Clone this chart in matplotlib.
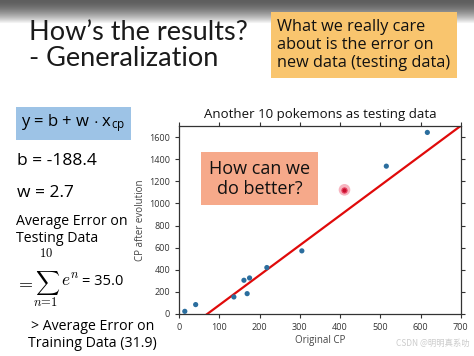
import numpy as np
import matplotlib.pyplot as plt

# test data
orig_cp = [14, 41, 136, 161, 169, 175, 218, 305, 411, 515, 617]
evolved_cp = [24, 85, 154, 305, 184, 326, 420, 571, 1123, 1337, 1642]
highlight = 8  # index of the circled point
b = -188.4
w = 2.7
line_x = [0, 700]

plt.rcParams['font.family'] = ['Open Sans', 'DejaVu Sans']
plt.rcParams['mathtext.fontset'] = 'cm'

fig = plt.figure(figsize=(4.74, 3.56), dpi=100)

# grey shadow band at the top of the slide
bg = fig.add_axes([0, 0, 1, 1], zorder=-5)
bg.set_axis_off()
grad = np.linspace(0, 1, 356).reshape(-1, 1)
shade = np.clip(grad / 0.065, 0, 1) ** 1.7
img = np.dstack([0.37 + 0.63 * shade] * 3)
bg.imshow(img, aspect='auto', extent=[0, 1, 0, 1], origin='upper')
bg.set_xlim(0, 1)
bg.set_ylim(0, 1)

# slide title
fig.text(0.062, 0.945, "How\u2019s the results?\n- Generalization", fontsize=19.5,
         va='top', ha='left', color='#1a1a1a', linespacing=1.05,
         family=['Lato', 'DejaVu Sans'])

fig.text(0.585, 0.948, "What we really care\nabout is the error on\nnew data (testing data)",
         fontsize=11.7, va='top', ha='left', linespacing=1.2, color='#111111',
         bbox=dict(boxstyle='square,pad=0.4', fc='#F9C56E', ec='none'))

# left column
fig.text(0.045, 0.653, r"y = b + w $\cdot$ x$_{\mathregular{cp}}$", fontsize=12,
         va='center', ha='left',
         bbox=dict(boxstyle='square,pad=0.33', fc='#9DC3E6', ec='none'))
fig.text(0.036, 0.548, f"b = {b}", fontsize=12.5, va='center', ha='left')
fig.text(0.036, 0.457, f"w = {w}", fontsize=12.5, va='center', ha='left')
fig.text(0.034, 0.355, "Average Error on\nTesting Data", fontsize=10.2,
         va='center', ha='left', linespacing=1.2)

# sum written out piece by piece
fig.text(0.032, 0.208, r"$=$", fontsize=13, va='center', ha='left')
fig.text(0.074, 0.205, r"$\sum$", fontsize=12, va='center', ha='left')
fig.text(0.097, 0.287, r"$10$", fontsize=9, va='center', ha='center')
fig.text(0.097, 0.149, r"$n\!=\!1$", fontsize=9, va='center', ha='center')
fig.text(0.128, 0.208, r"$e^{n}$", fontsize=12.5, va='center', ha='left')
fig.text(0.172, 0.208, "= 35.0", fontsize=10.5, va='center', ha='left')

fig.text(0.195, 0.058, "> Average Error on\nTraining Data (31.9)", fontsize=10.2,
         va='center', ha='center', multialignment='center', linespacing=1.2)

# scatter plot
ax = fig.add_axes([0.378, 0.118, 0.594, 0.528])
ax.scatter(orig_cp, evolved_cp, s=14, color='#2B6E9E', zorder=3, edgecolors='none')
ax.scatter([orig_cp[highlight]], [evolved_cp[highlight]], s=70, color='#F7B5C0',
           zorder=3, edgecolors='none')
ax.scatter([orig_cp[highlight]], [evolved_cp[highlight]], s=14, color='#C8102E',
           zorder=4, edgecolors='#E84060', linewidths=0.8)
ax.plot(line_x, [b + w * x for x in line_x], color='#E00A0A', lw=1.6, zorder=2)
ax.set_xlim(0, 700)
ax.set_ylim(0, 1700)
ax.set_xticks(range(0, 701, 100))
ax.set_yticks(range(0, 1601, 200))
ax.tick_params(labelsize=6.5, direction='out', length=3, top=True, right=True,
               colors='#333333')
for s in ax.spines.values():
    s.set_color('#333333')
    s.set_linewidth(0.9)
ax.set_xlabel("Original CP", fontsize=7, color='#444444', labelpad=2)
ax.set_ylabel("CP after evolution", fontsize=7, color='#444444', labelpad=2)
ax.set_title("Another 10 pokemons as testing data", fontsize=9.5, pad=6, color='#111111')
ax.text(0.285, 0.72, "How can we\ndo better?", transform=ax.transAxes, fontsize=13,
        ha='center', va='center', linespacing=1.15, color='#111111',
        bbox=dict(boxstyle='square,pad=0.42', fc='#F6A98A', ec='none'))

fig.text(0.99, 0.035, "CSDN @明明真系叻", fontsize=6, ha='right', va='center',
         color='#cccccc', family=['Noto Sans CJK SC', 'DejaVu Sans'])

fig.savefig('out.png', dpi=100)
